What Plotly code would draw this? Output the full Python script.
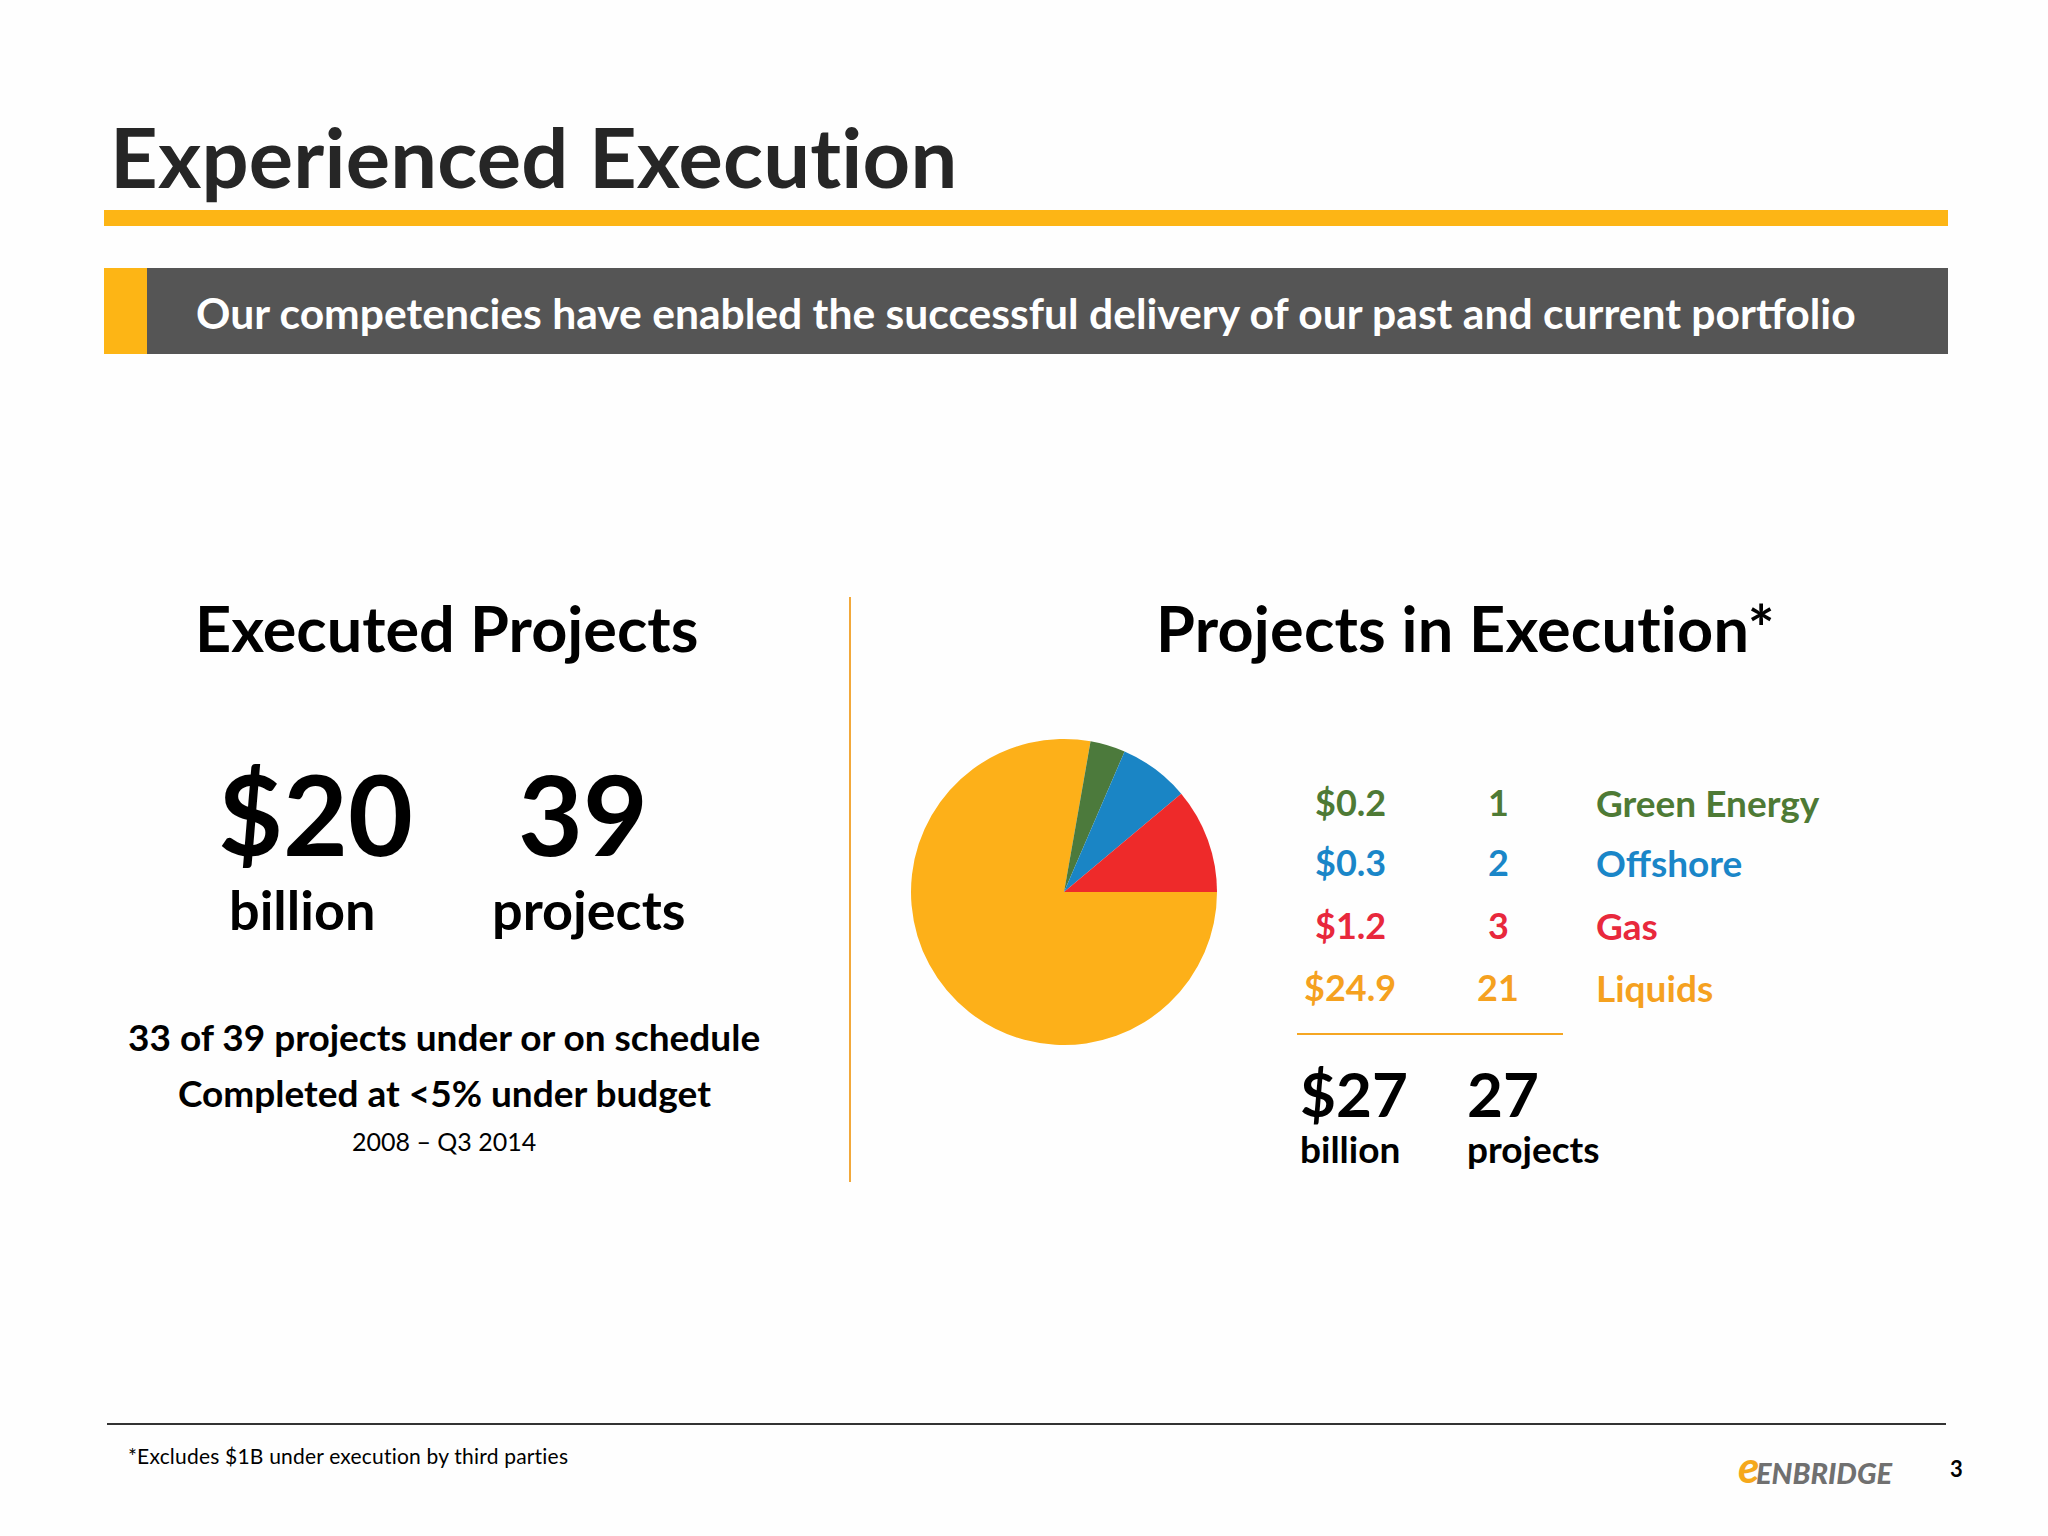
import plotly.graph_objects as go

W, H = 2048, 1536

# ---- data ----
segments = ["Green Energy", "Offshore", "Gas", "Liquids"]
capex_billion = ["$0.2", "$0.3", "$1.2", "$24.9"]
project_counts = [1, 2, 3, 21]
seg_text_colors = ["#4E7A35", "#1A86C8", "#E8283C", "#F5A11F"]
seg_pie_colors = ["#4C7A3C", "#1A85C5", "#EE2A2A", "#FDB019"]

executed_value = "$20"
executed_projects = "39"
exec_total_value = "$27"
exec_total_projects = "27"

FONT = "Lato"


def nolig(s):
    # tiny letter spacing disables the "ti" ligature so glyphs look like the reference
    return '<span style="letter-spacing:0.2px">' + s + '</span>'


def px(x):
    return x / W


def py(y):
    return 1 - y / H


fig = go.Figure()

# Pie: clockwise from 3 o'clock -> Liquids, Green Energy, Offshore, Gas
order = [3, 0, 1, 2]
fig.add_trace(go.Pie(
    labels=[segments[i] for i in order],
    values=[project_counts[i] for i in order],
    marker=dict(colors=[seg_pie_colors[i] for i in order], line=dict(width=0)),
    sort=False,
    direction="clockwise",
    rotation=90,
    textinfo="none",
    hoverinfo="label+value",
    showlegend=False,
    domain=dict(x=[px(1064 - 153), px(1064 + 153)], y=[py(892 + 153), py(892 - 153)]),
))

shapes = []
shapes.append(dict(type="rect", xref="paper", yref="paper", x0=px(104), x1=px(1948),
                   y0=py(226), y1=py(210), fillcolor="#FDB515", line=dict(width=0), layer="below"))
shapes.append(dict(type="rect", xref="paper", yref="paper", x0=px(104), x1=px(1948),
                   y0=py(354), y1=py(268), fillcolor="#555555", line=dict(width=0), layer="below"))
shapes.append(dict(type="rect", xref="paper", yref="paper", x0=px(104), x1=px(147),
                   y0=py(354), y1=py(268), fillcolor="#FDB515", line=dict(width=0), layer="below"))
shapes.append(dict(type="line", xref="paper", yref="paper", x0=px(850), x1=px(850),
                   y0=py(1182), y1=py(597), line=dict(color="#F2A83A", width=2)))
shapes.append(dict(type="line", xref="paper", yref="paper", x0=px(1297), x1=px(1563),
                   y0=py(1034), y1=py(1034), line=dict(color="#F5A623", width=2)))
shapes.append(dict(type="line", xref="paper", yref="paper", x0=px(107), x1=px(1946),
                   y0=py(1424), y1=py(1424), line=dict(color="#333333", width=2)))

ann = []


def T(text, x, y, size, color="#000000", xanchor="center", weight="bold", yanchor="middle"):
    ann.append(dict(text=text, x=px(x), y=py(y), xref="paper", yref="paper",
                    xanchor=xanchor, yanchor=yanchor, showarrow=False,
                    font=dict(family=FONT, size=size, color=color, weight=weight)))


T(nolig("Experienced Execution"), 108, 156, 83, "#262626", xanchor="left")
T("Our competencies have enabled the successful delivery of our past and current portfolio",
  194, 312, 42.6, "#FFFFFF", xanchor="left")

# left panel
T("Executed Projects", 447, 627, 63)
T(executed_value, 315, 812, 112)
T(executed_projects, 583, 812, 112)
T("billion", 302, 909, 54)
T("projects", 588, 909, 54)
T("33 of 39 projects under or on schedule", 444, 1036, 37)
T("Completed at <5% under budget", 444, 1092, 37)
T("2008 \u2013 Q3 2014", 444, 1141, 25, weight="normal")

# right panel
T(nolig("Projects in Execution*"), 1465, 627, 63)
row_y = [802, 862, 925, 987]
for i in range(len(segments)):
    T(capex_billion[i], 1350, row_y[i], 36, seg_text_colors[i])
    T(str(project_counts[i]), 1498, row_y[i], 36, seg_text_colors[i])
    T(segments[i], 1594, row_y[i], 37, seg_text_colors[i], xanchor="left")

T(exec_total_value, 1298, 1093, 62, xanchor="left")
T(exec_total_projects, 1465, 1093, 62, xanchor="left")
T("billion", 1298, 1148, 37, xanchor="left")
T("projects", 1465, 1148, 37, xanchor="left")

# footer
T(nolig("*Excludes $1B under execution by third parties"), 126, 1455, 21, "#000000",
  xanchor="left", weight="normal")
ann.append(dict(text="<i>e</i>", x=px(1748), y=py(1466), xref="paper", yref="paper", showarrow=False,
                xanchor="center", yanchor="middle",
                font=dict(family=FONT, size=44, color="#F5A81C", weight="bold")))
T("<i>ENBRIDGE</i>", 1754, 1472, 29, "#707070", xanchor="left", weight=900)
T("3", 1956, 1468, 22, "#000000")

fig.update_layout(
    width=W, height=H,
    margin=dict(l=0, r=0, t=0, b=0),
    paper_bgcolor="#FEFEFE",
    plot_bgcolor="#FEFEFE",
    shapes=shapes,
    annotations=ann,
    showlegend=False,
)

fig.write_html("out.html")
